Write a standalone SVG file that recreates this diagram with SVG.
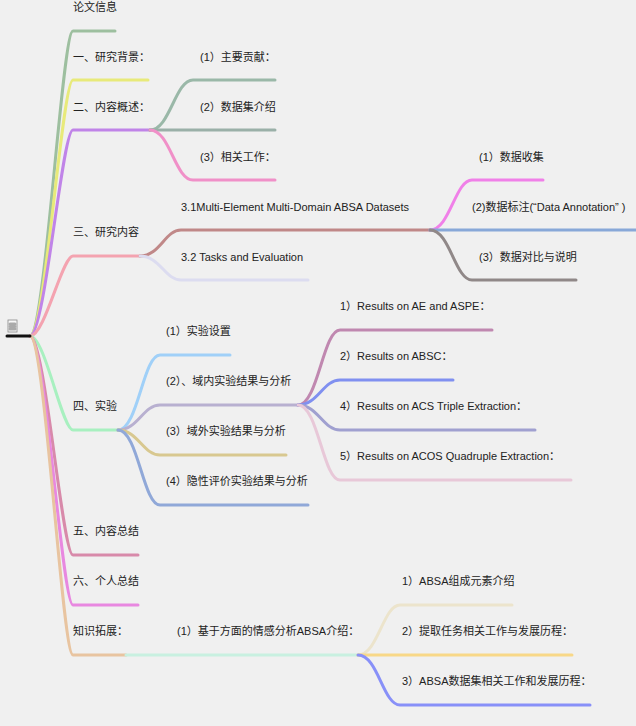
<svg xmlns="http://www.w3.org/2000/svg" width="636" height="726" viewBox="0 0 636 726">
<style>
text{font-family:"Liberation Sans","Noto Sans CJK SC",sans-serif;font-size:11px;fill:#222;dominant-baseline:central}
path{fill:none;stroke-width:3;stroke-linecap:round}
</style>
<rect width="636" height="726" fill="#f0f0f0"/>
<g id="connectors">
<path d="M30,336 C45,336 62,31 73,31 H115" stroke="#9dbf9f"/>
<path d="M30,336 C45,336 62,80 73,80 H148" stroke="#e8ea7a"/>
<path d="M30,336 C45,336 62,130 73,130 H150" stroke="#c084e8"/>
<path d="M30,336 C45,336 62,256 73,256 H140" stroke="#f4a3b0"/>
<path d="M30,336 C45,336 62,430 73,430 H118" stroke="#a8f0c0"/>
<path d="M30,336 C45,336 62,555 73,555 H138" stroke="#d88aaa"/>
<path d="M30,336 C45,336 62,605 73,605 H138" stroke="#e888e0"/>
<path d="M30,336 C45,336 62,655 73,655 H126" stroke="#e8c4a0"/>
<path d="M150,130 C170,130 175,80 193,80 H275" stroke="#9ab8a8"/>
<path d="M150,130 H275" stroke="#9ab0a8"/>
<path d="M150,130 C170,130 175,180 193,180 H275" stroke="#f090c8"/>
<path d="M140,256 C160,256 165,230 181,230 H430" stroke="#c08888"/>
<path d="M140,256 C160,256 165,280 181,280 H308" stroke="#dcdcf0"/>
<path d="M430,230 C450,230 455,180 472,180 H543" stroke="#f080e8"/>
<path d="M430,230 H636" stroke="#88a8d8"/>
<path d="M430,230 C450,230 455,280 472,280 H576" stroke="#908888"/>
<path d="M118,430 C138,430 143,355 160,355 H230" stroke="#a0d0f8"/>
<path d="M118,430 C138,430 143,405 160,405 H298" stroke="#b8b0d0"/>
<path d="M118,430 C138,430 143,455 160,455 H286" stroke="#d8c890"/>
<path d="M118,430 C138,430 143,505 160,505 H308" stroke="#90a8d8"/>
<path d="M298,405 C318,405 323,330 340,330 H492" stroke="#c088b0"/>
<path d="M298,405 C318,405 323,380 340,380 H453" stroke="#8090f0"/>
<path d="M298,405 C318,405 323,430 340,430 H535" stroke="#a0a0d0"/>
<path d="M298,405 C318,405 323,480 340,480 H571" stroke="#e8c8d8"/>
<path d="M126,655 H358" stroke="#c8f0e0"/>
<path d="M358,655 C378,655 383,605 400,605 H512" stroke="#ece4cc"/>
<path d="M358,655 H572" stroke="#f8d888"/>
<path d="M358,655 C378,655 383,705 400,705 H590" stroke="#8890f8"/>
</g>
<g id="root">
<rect x="8" y="320" width="9" height="12" fill="#f8f8f8" stroke="#888" stroke-width="0.8"/>
<path d="M10,324 H15 M10,326.5 H15 M10,329 H15" stroke="#aaa" stroke-width="0.6"/>
<path d="M7,336 H30" stroke="#111" stroke-width="2.5"/>
</g>
<g id="n1"><text x="73" y="7">论文信息</text></g>
<g id="n2"><text x="73" y="57">一、研究背景：</text></g>
<g id="n3"><text x="73" y="107">二、内容概述：</text></g>
<g id="n3a"><text x="200" y="57">(1）主要贡献：</text></g>
<g id="n3b"><text x="200" y="107">(2）数据集介绍</text></g>
<g id="n3c"><text x="200" y="157">(3）相关工作：</text></g>
<g id="n4"><text x="73" y="232">三、研究内容</text></g>
<g id="n4a"><text x="181" y="207">3.1Multi-Element Multi-Domain ABSA Datasets</text></g>
<g id="n4b"><text x="181" y="257">3.2 Tasks and Evaluation</text></g>
<g id="n4a1"><text x="479" y="157">(1）数据收集</text></g>
<g id="n4a2"><text x="472" y="207">(2)数据标注(“Data Annotation” )</text></g>
<g id="n4a3"><text x="479" y="257">(3）数据对比与说明</text></g>
<g id="n5"><text x="73" y="406">四、实验</text></g>
<g id="n5a"><text x="166" y="331">(1）实验设置</text></g>
<g id="n5b"><text x="166" y="381">(2）、域内实验结果与分析</text></g>
<g id="n5c"><text x="166" y="431">(3）域外实验结果与分析</text></g>
<g id="n5d"><text x="166" y="481">(4）隐性评价实验结果与分析</text></g>
<g id="n5b1"><text x="340" y="306">1）Results on AE and ASPE：</text></g>
<g id="n5b2"><text x="340" y="356">2）Results on ABSC：</text></g>
<g id="n5b3"><text x="340" y="406">4）Results on ACS Triple Extraction：</text></g>
<g id="n5b4"><text x="340" y="456">5）Results on ACOS Quadruple Extraction：</text></g>
<g id="n6"><text x="73" y="531">五、内容总结</text></g>
<g id="n7"><text x="73" y="581">六、个人总结</text></g>
<g id="n8"><text x="73" y="631">知识拓展：</text></g>
<g id="n8a"><text x="177" y="631">(1）基于方面的情感分析ABSA介绍：</text></g>
<g id="n8a1"><text x="402" y="581">1）ABSA组成元素介绍</text></g>
<g id="n8a2"><text x="402" y="631">2）提取任务相关工作与发展历程：</text></g>
<g id="n8a3"><text x="402" y="681">3）ABSA数据集相关工作和发展历程：</text></g>
</svg>
